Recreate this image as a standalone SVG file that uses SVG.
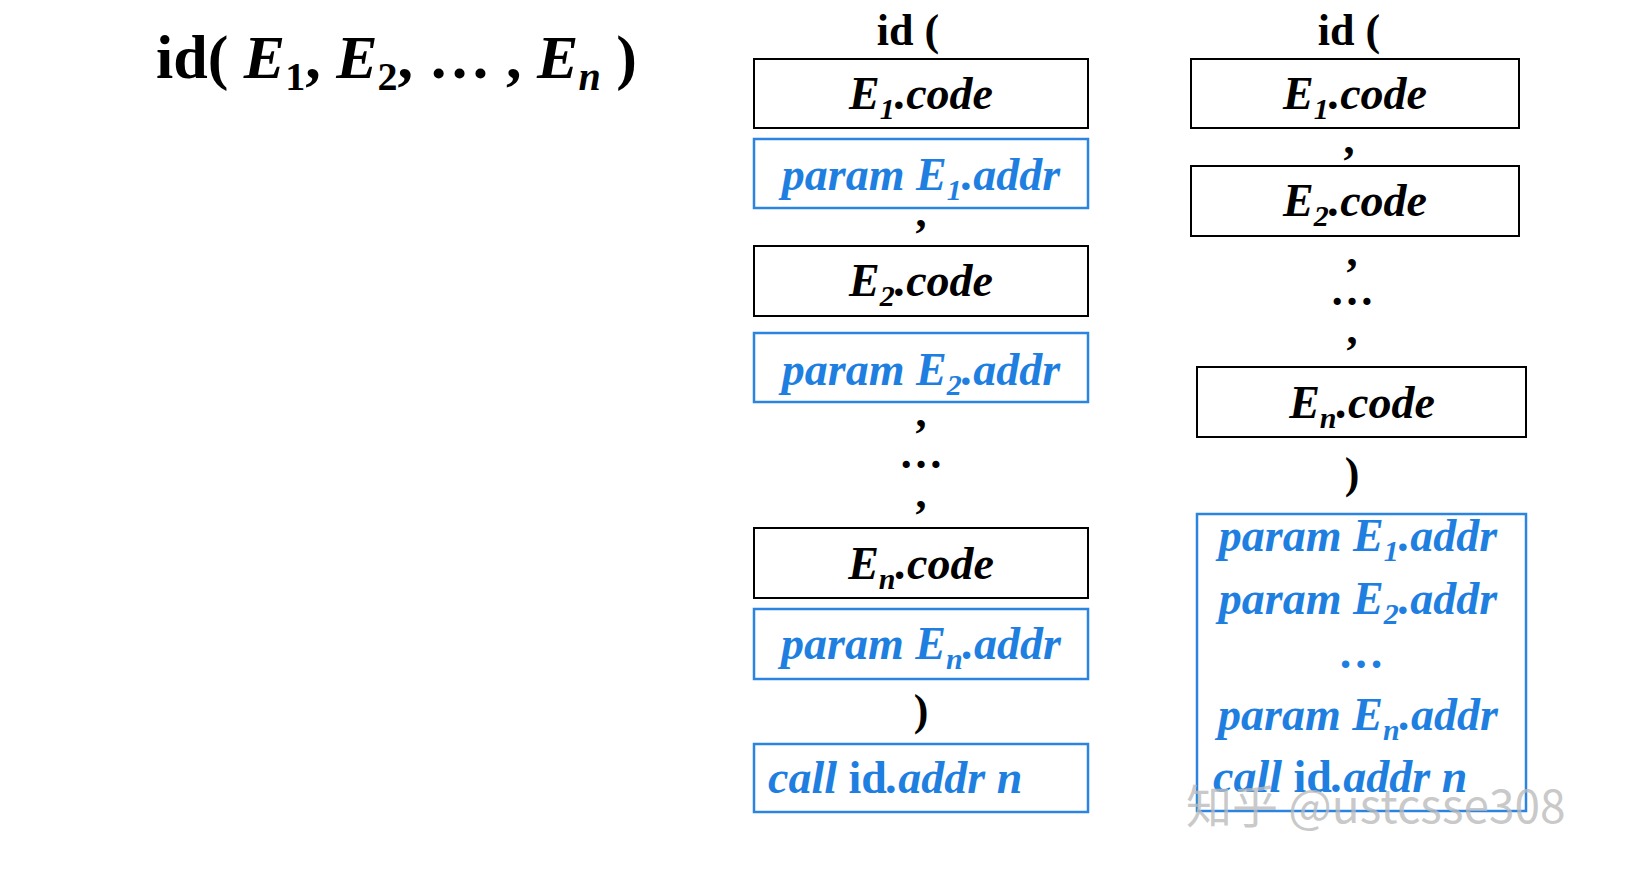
<svg xmlns="http://www.w3.org/2000/svg" width="1632" height="872" viewBox="0 0 1632 872" xml:space="preserve">
<style>
text{font-family:"Liberation Serif","Times New Roman",serif;font-weight:bold;}
.t{font-size:46px;font-style:italic;text-anchor:middle;}
.k{fill:#000;}
.b{fill:#1E7FE0;}
.p{font-size:44px;text-anchor:middle;fill:#000;}
.bk{fill:#fff;stroke:#000;stroke-width:2;}
.bb{fill:#fff;stroke:#2A84E0;stroke-width:2.5;}
.s{font-size:30px;}
.n{font-style:normal;}
</style>
<rect width="1632" height="872" fill="#fff"/>
<text x="156" y="78" font-size="62">id( <tspan font-style="italic">E</tspan><tspan font-size="40" dy="12">1</tspan><tspan dy="-12">, </tspan><tspan font-style="italic">E</tspan><tspan font-size="40" dy="12">2</tspan><tspan dy="-12">, … , </tspan><tspan font-style="italic">E</tspan><tspan font-size="40" font-style="italic" dy="12">n</tspan><tspan dy="-12"> )</tspan></text>
<g id="left">
<text class="p" x="908" y="45">id (</text>
<g id="l1"><rect class="bk" x="754" y="59" width="334" height="69"/><text class="t k" x="921" y="109">E<tspan class="s" dy="10">1</tspan><tspan dy="-10">.code</tspan></text></g>
<g id="l2"><rect class="bb" x="754" y="139" width="334" height="69"/><text class="t b" x="921" y="190">param E<tspan class="s" dy="10">1</tspan><tspan dy="-10">.addr</tspan></text></g>
<text class="p" x="921" y="227">,</text>
<g id="l3"><rect class="bk" x="754" y="246" width="334" height="70"/><text class="t k" x="921" y="296">E<tspan class="s" dy="10">2</tspan><tspan dy="-10">.code</tspan></text></g>
<g id="l4"><rect class="bb" x="754" y="333" width="334" height="69"/><text class="t b" x="921" y="385">param E<tspan class="s" dy="10">2</tspan><tspan dy="-10">.addr</tspan></text></g>
<text class="p" x="921" y="427">,</text>
<text class="p" x="921" y="468">…</text>
<text class="p" x="921" y="508">,</text>
<g id="l5"><rect class="bk" x="754" y="528" width="334" height="70"/><text class="t k" x="921" y="579">E<tspan class="s" dy="10">n</tspan><tspan dy="-10">.code</tspan></text></g>
<g id="l6"><rect class="bb" x="754" y="609" width="334" height="70"/><text class="t b" x="921" y="659">param E<tspan class="s" dy="10">n</tspan><tspan dy="-10">.addr</tspan></text></g>
<text class="p" x="921" y="725">)</text>
<g id="l7"><rect class="bb" x="754" y="744" width="334" height="68"/><text class="t b" x="768" y="793" style="text-anchor:start">call <tspan class="n">id</tspan>.addr  n</text></g>
</g>
<g id="right">
<text class="p" x="1349" y="45">id (</text>
<g id="r1"><rect class="bk" x="1191" y="59" width="328" height="69"/><text class="t k" x="1355" y="109">E<tspan class="s" dy="10">1</tspan><tspan dy="-10">.code</tspan></text></g>
<text class="p" x="1349" y="154">,</text>
<g id="r2"><rect class="bk" x="1191" y="166" width="328" height="70"/><text class="t k" x="1355" y="216">E<tspan class="s" dy="10">2</tspan><tspan dy="-10">.code</tspan></text></g>
<text class="p" x="1352" y="266">,</text>
<text class="p" x="1352" y="305">…</text>
<text class="p" x="1352" y="344">,</text>
<g id="r3"><rect class="bk" x="1197" y="367" width="329" height="70"/><text class="t k" x="1362" y="418">E<tspan class="s" dy="10">n</tspan><tspan dy="-10">.code</tspan></text></g>
<text class="p" x="1352" y="488">)</text>
<g id="r4"><rect class="bb" x="1197" y="514" width="329" height="297"/>
<text class="t b" x="1358" y="551">param E<tspan class="s" dy="10">1</tspan><tspan dy="-10">.addr</tspan></text>
<text class="t b" x="1358" y="614">param E<tspan class="s" dy="10">2</tspan><tspan dy="-10">.addr</tspan></text>
<text class="t b n" x="1361" y="668">…</text>
<text class="t b" x="1358" y="730">param E<tspan class="s" dy="10">n</tspan><tspan dy="-10">.addr</tspan></text>
<text class="t b" x="1213" y="792" style="text-anchor:start">call <tspan class="n">id</tspan>.addr  n</text>
</g>
</g>
<text x="1186" y="823" font-size="46" fill="#bbb" fill-opacity="0.8" style="font-family:'Noto Sans CJK SC','Liberation Sans',sans-serif;font-weight:normal">知乎 @ustcsse308</text>
</svg>
